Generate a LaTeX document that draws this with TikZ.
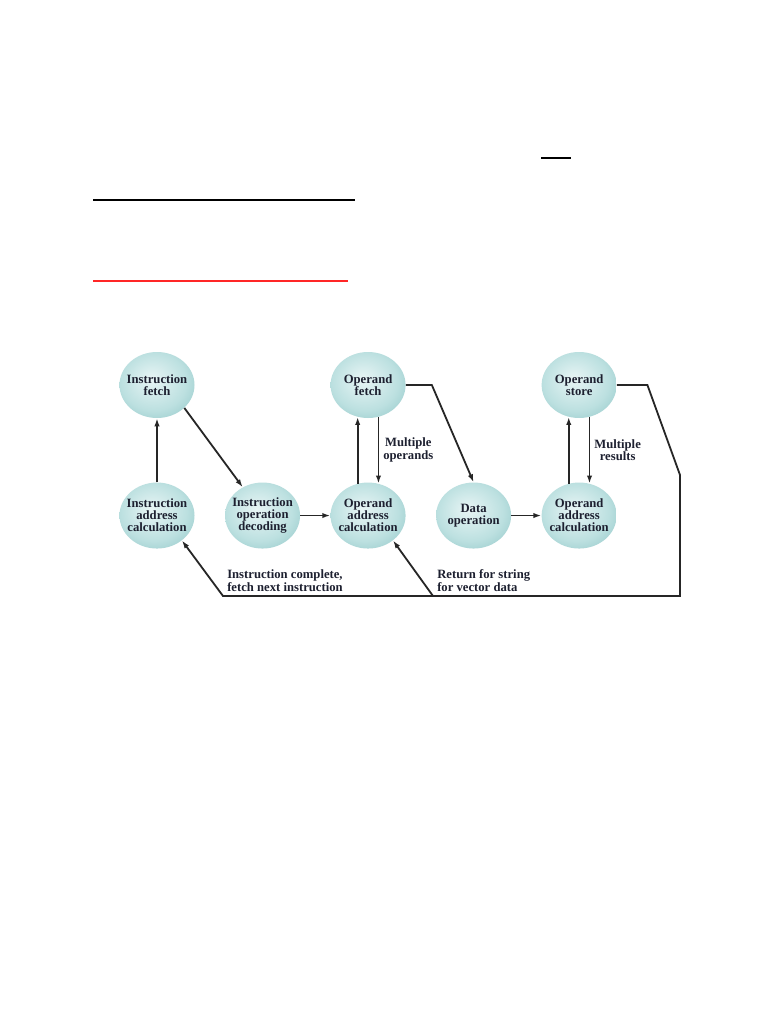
\documentclass[tikz,border=0pt]{standalone}
\usepackage{fontspec}
\setmainfont{Liberation Serif}
\usetikzlibrary{positioning,shapes.geometric,arrows.meta}
\definecolor{stagein}{HTML}{E8F5F5}
\definecolor{stagemid}{HTML}{BCE0E0}
\definecolor{stageout}{HTML}{80BDBE}
\definecolor{stagetext}{HTML}{1D2030}
\definecolor{linkcol}{HTML}{262626}
\definecolor{rulered}{HTML}{FF2626}
\pgfdeclareradialshading{stageshade}{\pgfpoint{-4bp}{5bp}}{color(0bp)=(stagein);
  color(22bp)=(stagemid); color(42bp)=(stageout); color(50bp)=(stageout)}
\begin{document}
\begin{tikzpicture}[x=0.75pt, y=-0.75pt,
  node distance=48pt and 22.5pt,
  stage/.style={ellipse, inner xsep=-3pt, inner ysep=0pt,
    minimum width=56.25pt, minimum height=49.5pt,
    shading=stageshade, text=stagetext,
    align=center, font=\fontsize{9.5}{9}\selectfont\bfseries},
  note/.style={text=stagetext, inner sep=3pt,
    font=\fontsize{9.5}{8.2}\selectfont\bfseries},
  link/.style={draw=linkcol, line width=1.35pt, -{Latex[length=6pt,width=4pt]}}]
    \fill[white] (0,0) rectangle (768,1024);
    \useasboundingbox (0,0) rectangle (768,1024);
    \draw[line width=0.8pt] (541,158) -- (571,158);
    \draw[line width=1.1pt] (93,200) -- (355,200);
    \draw[rulered, line width=1.6pt] (93,281) -- (348,281);

    \node[stage] (ifet) at (157,385) {Instruction\\fetch};
    \node[stage, below=of ifet] (iac) {Instruction\\address\\calculation};
    \node[stage, right=of iac] (iod) {Instruction\\operation\\decoding};
    \node[stage, right=of iod] (oac) {Operand\\address\\calculation};
    \node[stage, above=of oac] (ofet) {Operand\\fetch};
    \node[stage, right=of oac] (dop) {Data\\operation};
    \node[stage, right=of dop] (oac2) {Operand\\address\\calculation};
    \node[stage, above=of oac2] (ost) {Operand\\store};

    \coordinate (loop) at (680,596);
    \coordinate (split) at (433,596);
    \coordinate (corner) at (223,596);

    \draw[link] (iac) -- (ifet);
    \draw[link] (ifet.-40) -- (iod.125);
    \draw[link] (iod) -- (oac);
    \draw[link] (oac.108) -- (ofet.252);
    \draw[link] (ofet.288) -- node[note, right, align=center] {Multiple\\operands} (oac.72);
    \draw[link] (ofet.east) -- ++(26,0) -- (dop.north);
    \draw[link] (dop) -- (oac2);
    \draw[link] (oac2.108) -- (ost.252);
    \draw[link] (ost.288) -- node[note, right, align=center] {Multiple\\results} (oac2.72);
    \draw[link] (ost.east) -- ++(30.5,0) -- (loop |- 0,475) -- (loop) -- (corner) -- (iac.-45);
    \draw[link] (split) -- (oac.-45);

    \node[note, anchor=south west, align=left] (done) at (corner) {Instruction complete,\\fetch next instruction};
    \node[note, anchor=south west, align=left] (again) at (split) {Return for string\\for vector data};
\end{tikzpicture}
\end{document}
